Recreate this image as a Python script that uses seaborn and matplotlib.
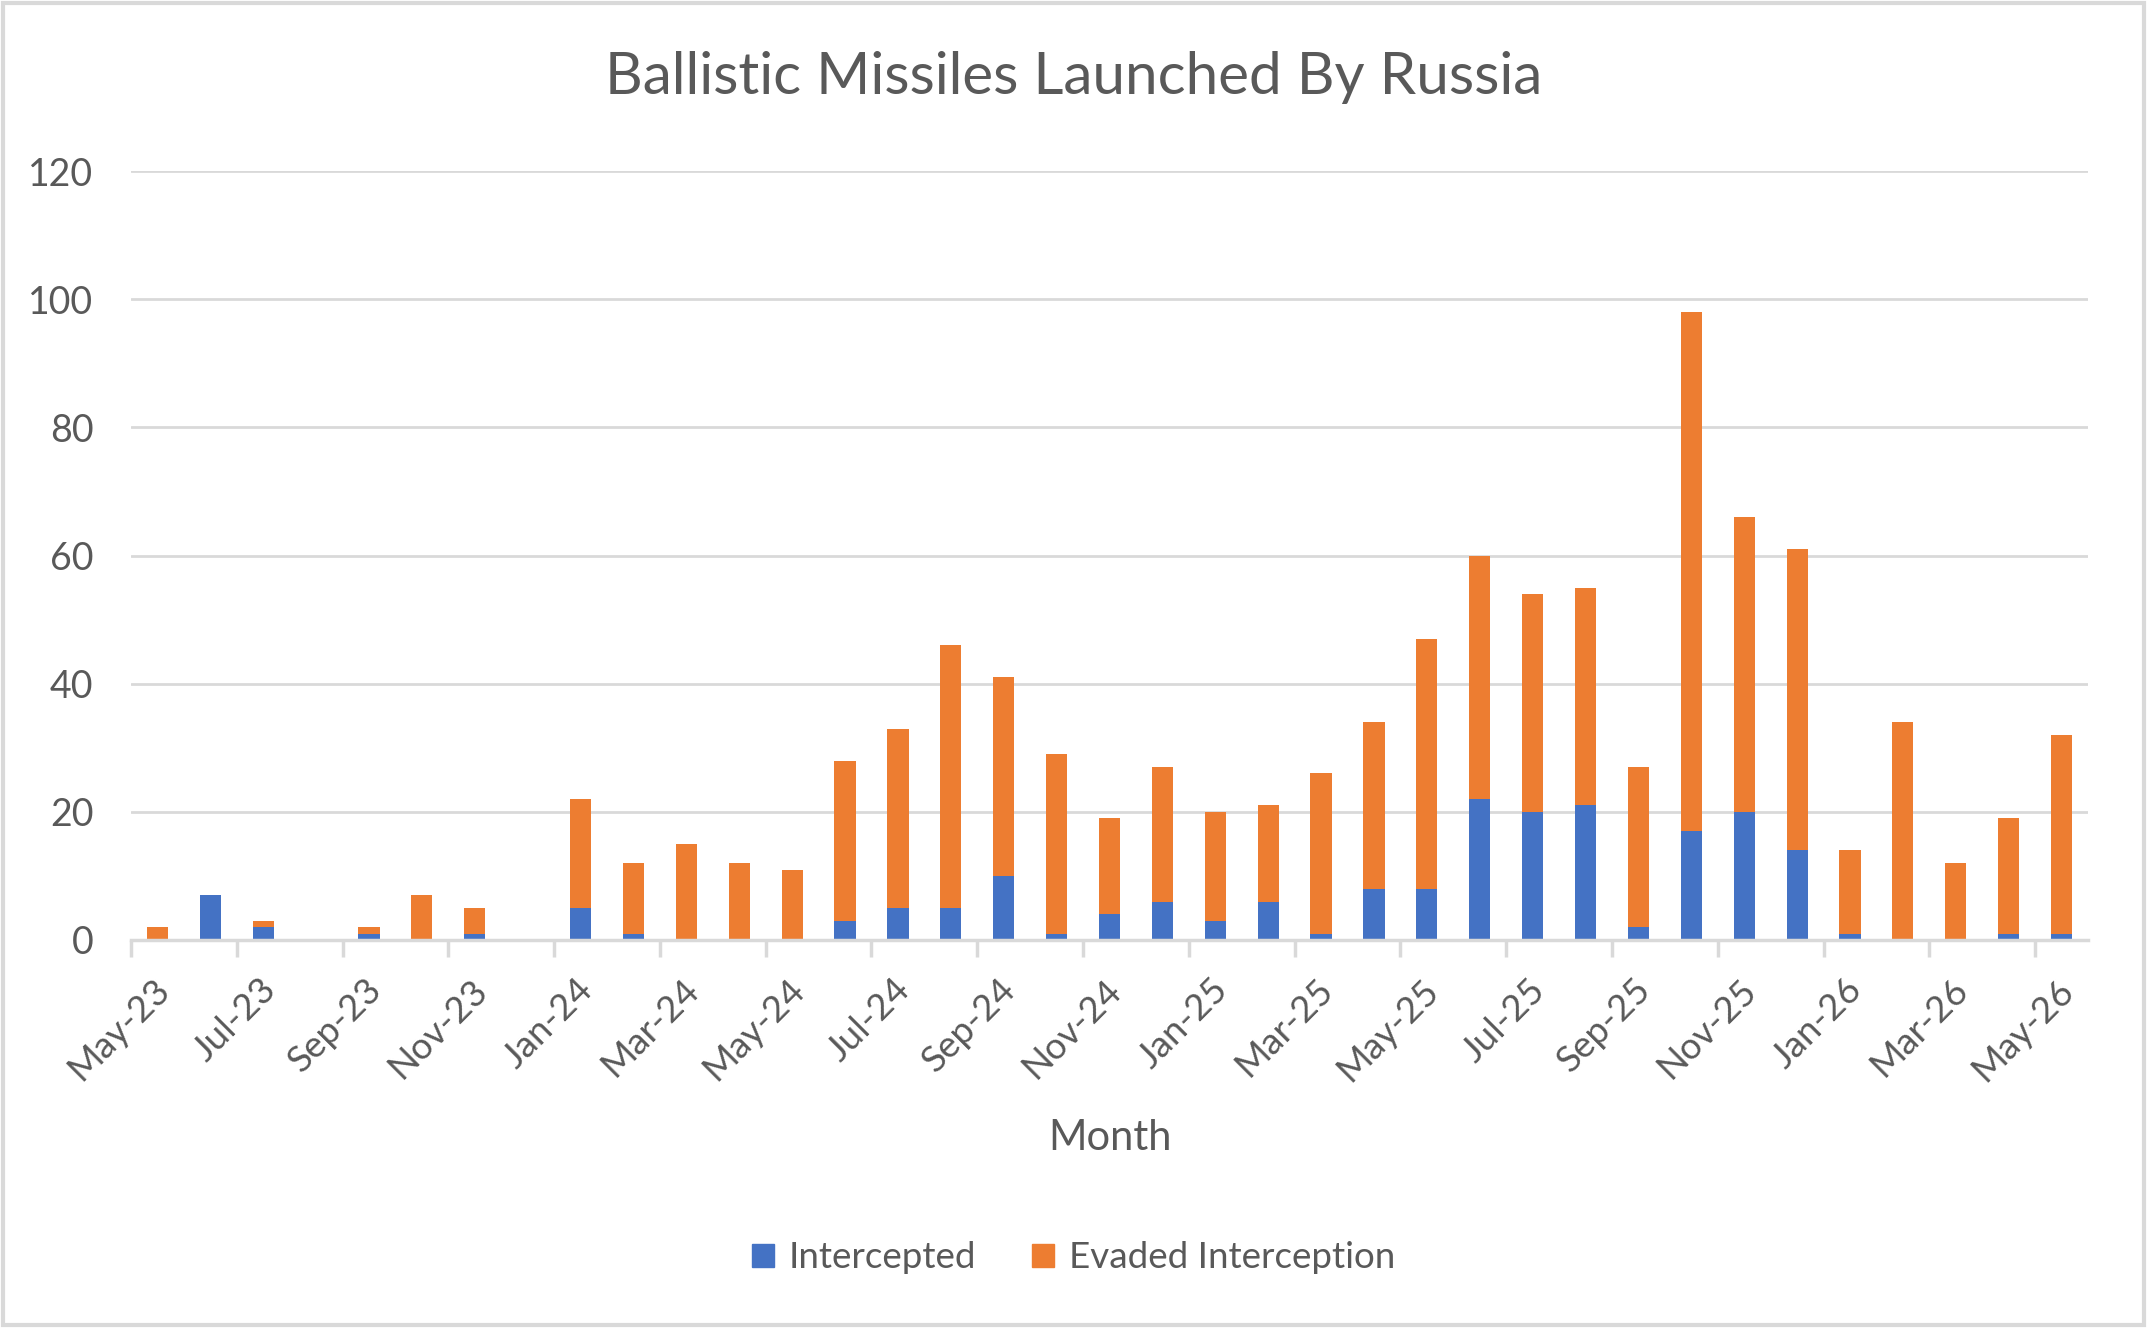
import numpy as np
import pandas as pd
import seaborn as sns
import matplotlib.pyplot as plt
import matplotlib.transforms as mtransforms
from matplotlib.patches import Patch, Rectangle

months = ['May-23', 'Jun-23', 'Jul-23', 'Aug-23', 'Sep-23', 'Oct-23', 'Nov-23', 'Dec-23',
          'Jan-24', 'Feb-24', 'Mar-24', 'Apr-24', 'May-24', 'Jun-24', 'Jul-24', 'Aug-24',
          'Sep-24', 'Oct-24', 'Nov-24', 'Dec-24', 'Jan-25', 'Feb-25', 'Mar-25', 'Apr-25',
          'May-25', 'Jun-25', 'Jul-25', 'Aug-25', 'Sep-25', 'Oct-25', 'Nov-25', 'Dec-25',
          'Jan-26', 'Feb-26', 'Mar-26', 'Apr-26', 'May-26']
intercepted = [0, 7, 2, 0, 1, 0, 1, 0,
               5, 1, 0, 0, 0, 3, 5, 5,
               10, 1, 4, 6, 3, 6, 1, 8,
               8, 22, 20, 21, 2, 17, 20, 14,
               1, 0, 0, 1, 1]
evaded = [2, 0, 1, 0, 1, 7, 4, 0,
          17, 11, 15, 12, 11, 25, 28, 41,
          31, 28, 15, 21, 17, 15, 25, 26,
          39, 38, 34, 34, 25, 81, 46, 47,
          13, 34, 12, 18, 31]

BLUE = '#4472C4'
ORANGE = '#ED7D31'
TEXT = '#595959'
GRID = '#D9D9D9'

df = pd.DataFrame({'month': months, 'intercepted': intercepted, 'evaded': evaded})
df['total'] = df['intercepted'] + df['evaded']

sns.set_theme(style='white')
plt.rcParams['font.family'] = ['Lato', 'DejaVu Sans']

fig = plt.figure(figsize=(21.47, 13.28), dpi=100)
ax = fig.add_axes([131 / 2147, 1 - 940 / 1328, (2088 - 131) / 2147, (940 - 171) / 1328])

# stacked bars: total in orange, intercepted drawn over it in blue
sns.barplot(data=df, x='month', y='total', color=ORANGE, width=0.4,
            saturation=1, linewidth=0, ax=ax, zorder=2)
sns.barplot(data=df, x='month', y='intercepted', color=BLUE, width=0.4,
            saturation=1, linewidth=0, ax=ax, zorder=3)

ax.set_xlim(-0.5, len(months) - 0.5)
ax.set_ylim(0, 120)
ax.set_yticks(range(0, 121, 20))
ax.yaxis.grid(True, color=GRID, lw=2, zorder=0)
ax.tick_params(axis='y', length=0, pad=27, labelsize=27, labelcolor=TEXT)

for side in ['top', 'right', 'left']:
    ax.spines[side].set_visible(False)
ax.spines['bottom'].set_color(GRID)
ax.spines['bottom'].set_linewidth(2.5)
ax.spines['bottom'].set_zorder(4)

# labels every two months at the bars, tick marks between categories
ax.set_xticks(range(0, len(months), 2))
ax.set_xticklabels(months[::2], rotation=45, ha='right', va='center',
                   rotation_mode='anchor', fontsize=26.5, color=TEXT)
ax.set_xticks(np.arange(-0.5, len(months) - 1, 2), minor=True)
ax.tick_params(axis='x', which='major', length=0, pad=32)
ax.tick_params(axis='x', which='minor', length=12, width=2.5, color=GRID, bottom=True)
shift = mtransforms.ScaledTranslation(5 / 72, 0, fig.dpi_scale_trans)
for lbl in ax.get_xticklabels():
    lbl.set_transform(lbl.get_transform() + shift)

ax.set_xlabel('Month', fontsize=30, color=TEXT, labelpad=23)
ax.set_ylabel('')

fig.suptitle('Ballistic Missiles Launched By Russia', fontsize=42, color=TEXT,
             y=1 - 78 / 1328, va='center')

handles = [Patch(color=BLUE, label='Intercepted'),
           Patch(color=ORANGE, label='Evaded Interception')]
fig.legend(handles=handles, loc='center', bbox_to_anchor=(0.5, 1 - 1258 / 1328),
           ncol=2, frameon=False, fontsize=26.5, labelcolor=TEXT,
           handlelength=0.6, handleheight=0.6, handletextpad=0.4, columnspacing=1.5)

fig.patches.append(Rectangle((0.0015, 0.002), 0.997, 0.996, transform=fig.transFigure,
                             fill=False, edgecolor=GRID, lw=3))

fig.savefig('out.png', dpi=100)
